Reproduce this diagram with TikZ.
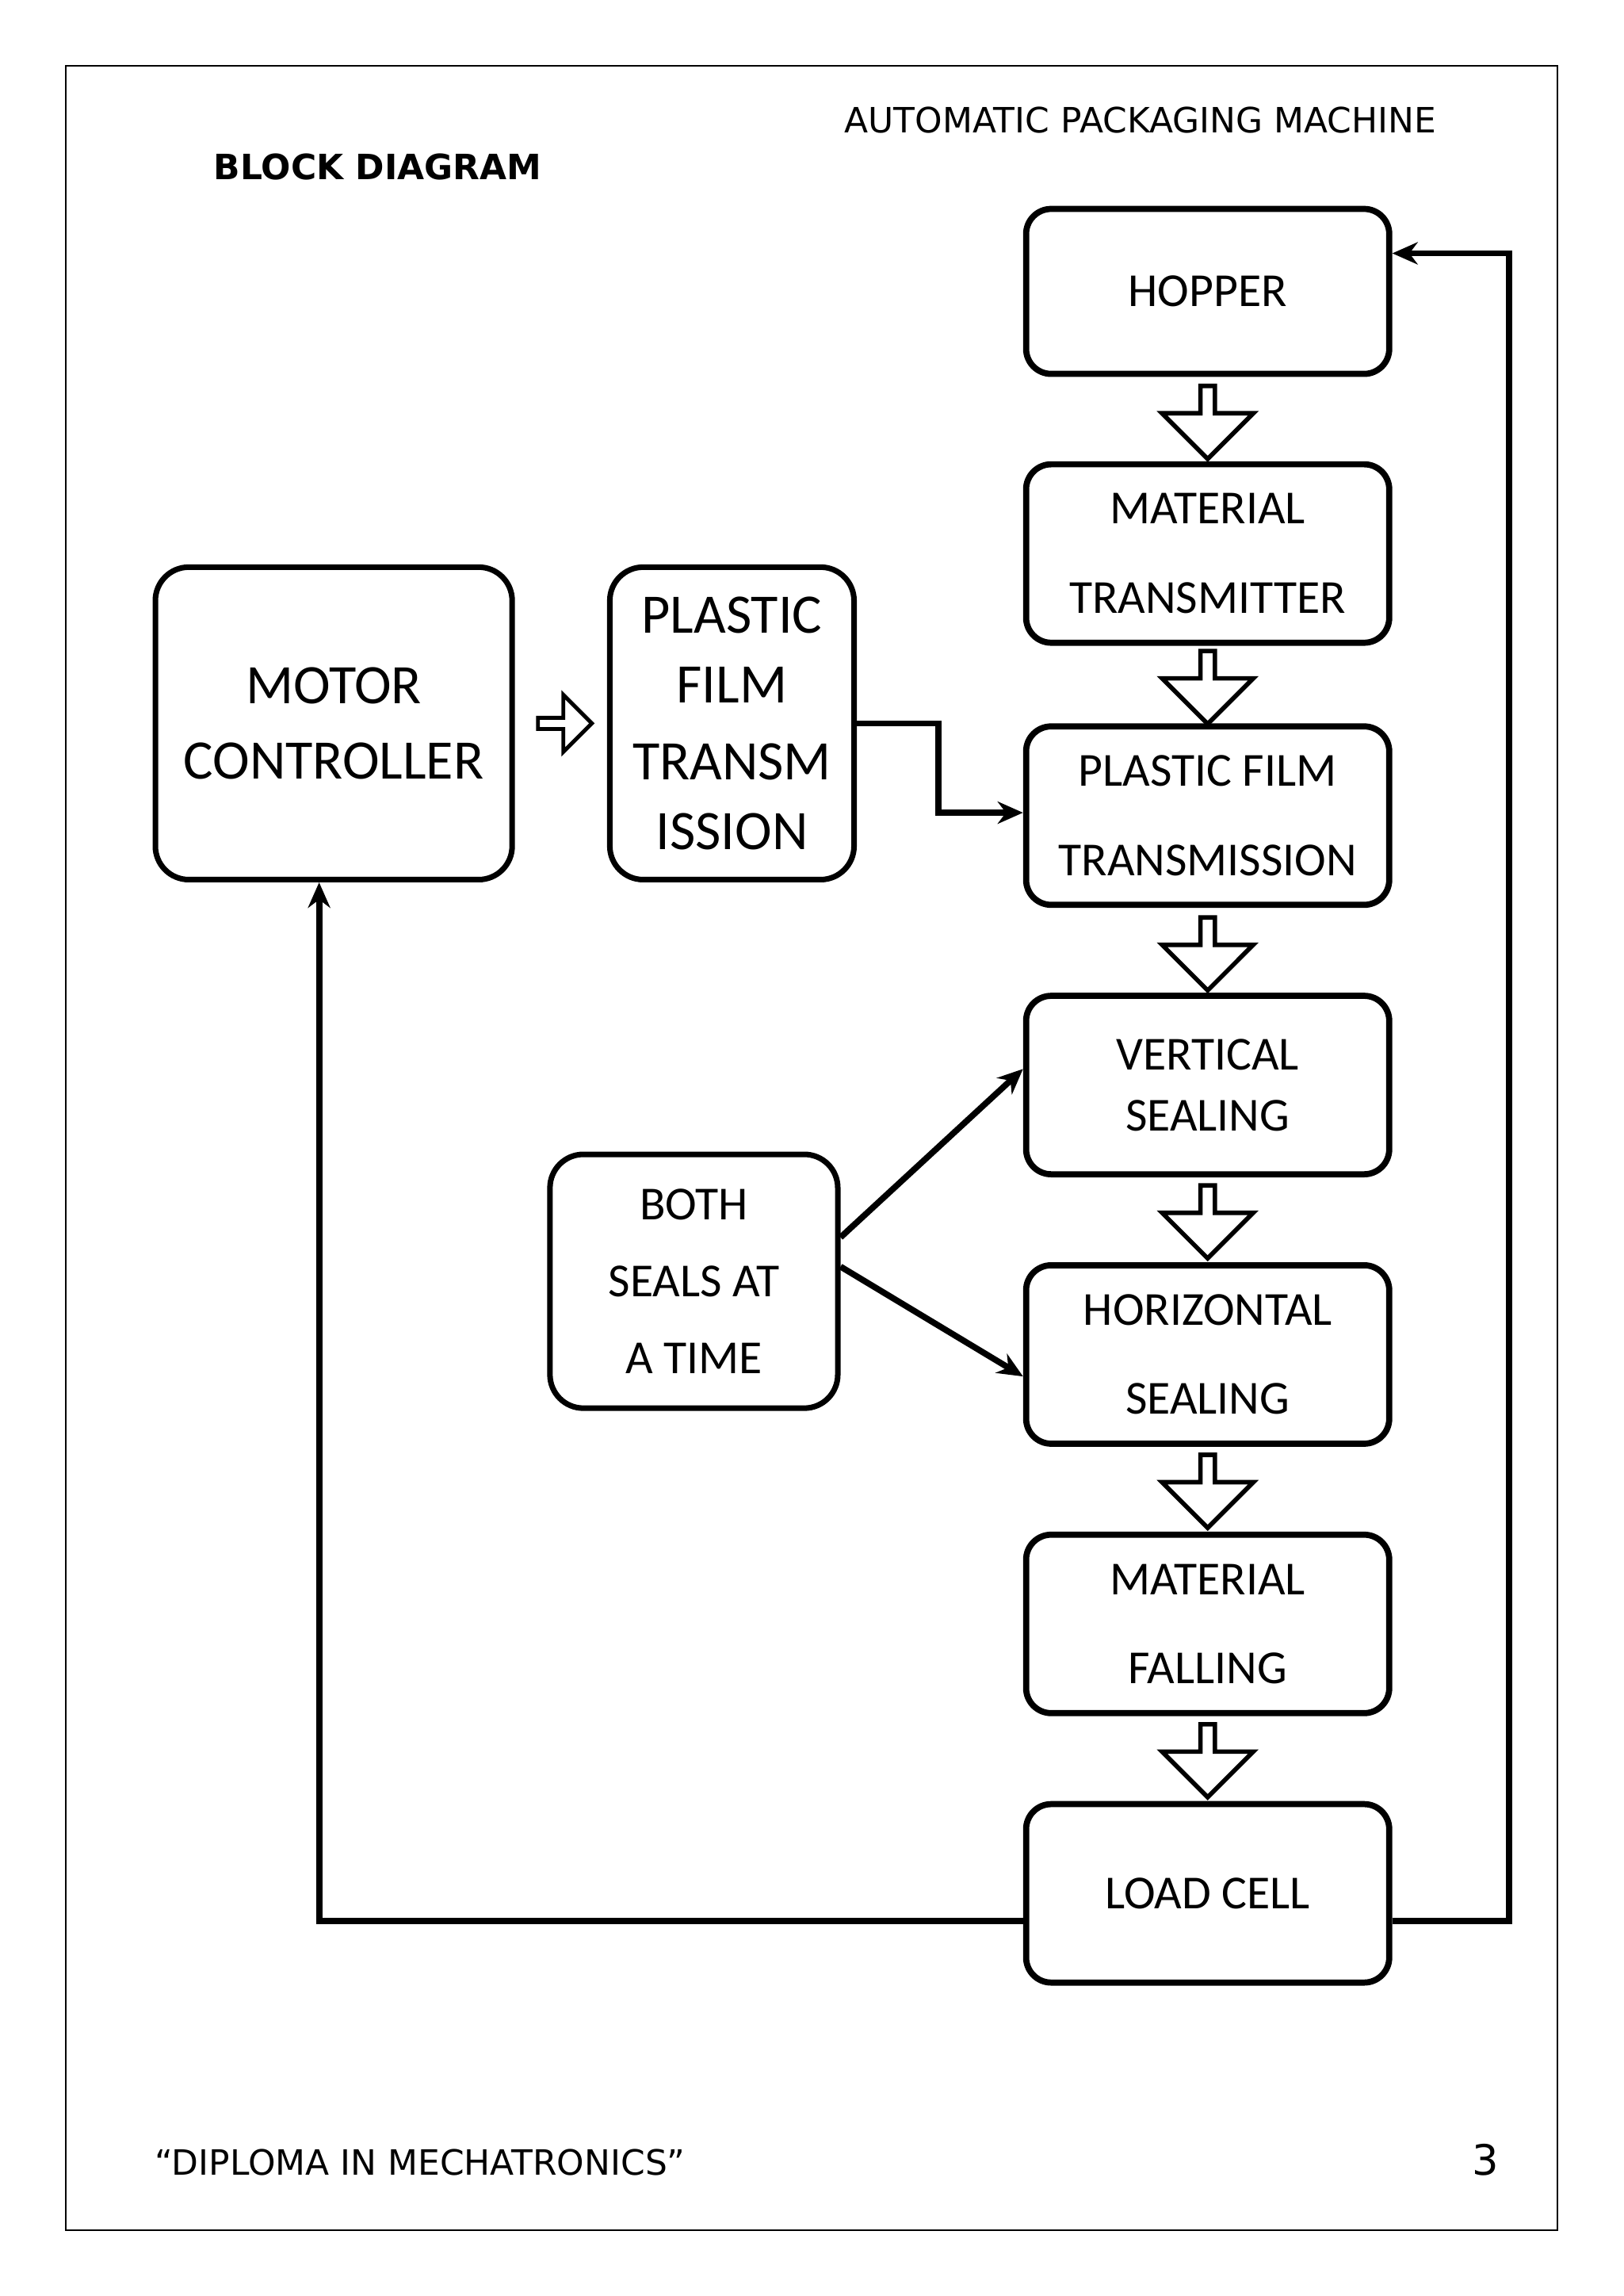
\documentclass[tikz,border=0pt]{standalone}
\usepackage{fontspec}
\setmainfont{Carlito}
\newfontfamily\verd{DejaVu Sans}
\usetikzlibrary{shapes.arrows, arrows.meta, positioning}
\tikzstyle{block} = [rectangle, rounded corners=9pt, draw=black, line width=2.2pt, minimum width=4.58cm, minimum height=2.25cm, align=center, font=\fontsize{17}{22}\selectfont]
\tikzstyle{side} = [rectangle, rounded corners=12pt, draw=black, line width=2pt, align=center, font=\fontsize{19}{24}\selectfont]
\tikzstyle{flow} = [single arrow, draw=black, line width=1.6pt, fill=white, single arrow head extend=0.15cm, minimum width=1.15cm, minimum height=0.92cm, inner sep=0pt, shape border rotate=270]
\tikzstyle{arrow} = [line width=2.2pt, -{Stealth[length=0.32cm, width=0.28cm]}]
\begin{document}
\begin{tikzpicture}[x=0.01847cm, y=-0.01847cm]
	\useasboundingbox (0,0) rectangle (1109,1568);
	\draw [line width=0.6pt] (45,45) rectangle (1064,1523);
	\node (title) at (779,82) {\verd\fontsize{12.5}{16}\selectfont AUTOMATIC PACKAGING MACHINE};
	\node (heading) at (258,114) {\verd\bfseries\fontsize{12.5}{16}\selectfont BLOCK DIAGRAM};
	
	\node (hopper) [block, minimum height=2.08cm] at (825,199) {HOPPER};
	\node (mattrans) [block] at (825,378) {MATERIAL\\[0.35cm]TRANSMITTER};
	\node (filmtrans) [block] at (825,557) {PLASTIC FILM\\[0.35cm]TRANSMISSION};
	\node (vseal) [block] at (825,741) {VERTICAL\\SEALING};
	\node (hseal) [block] at (825,925) {HORIZONTAL\\[0.35cm]SEALING};
	\node (matfall) [block] at (825,1109) {MATERIAL\\[0.35cm]FALLING};
	\node (loadcell) [block] at (825,1293) {LOAD CELL};
	
	\node (motor) [side, minimum width=4.5cm, minimum height=3.94cm, font=\fontsize{20}{27}\selectfont] at (228,494) {MOTOR\\CONTROLLER};
	\node (film) [side, minimum width=3.08cm, minimum height=3.94cm, font=\fontsize{20}{25}\selectfont] at (500,494) {PLASTIC\\FILM\\[0.1cm]TRANSM\\ISSION};
	\node (seals) [side, minimum width=3.63cm, minimum height=3.2cm, font=\fontsize{17}{22}\selectfont] at (474,875) {BOTH\\[0.2cm]SEALS AT\\[0.2cm]A TIME};
	
	\node (f1) [flow] at (825,286) {};
	\node (f2) [flow] at (825,467) {};
	\node (f3) [flow] at (825,649) {};
	\node (f4) [flow] at (825,832) {};
	\node (f5) [flow] at (825,1016) {};
	\node (f6) [flow] at (825,1200) {};
	\node (fm) [flow, shape border rotate=0, minimum width=0.72cm, minimum height=0.68cm, single arrow head extend=0.1cm, line width=1.4pt] at (384,494) {};
	
	\coordinate (bend) at (641,494);
	\draw [arrow] (film.east |- bend) -- (bend) |- (filmtrans.west |- 0,555);
	\draw [arrow] (seals.east |- 0,845) -- (vseal.west |- 0,730);
	\draw [arrow] (seals.east |- 0,865) -- (hseal.west |- 0,940);
	\draw [arrow] (loadcell.west |- 0,1312) -| (motor.south -| 218,0);
	\draw [arrow] (loadcell.east |- 0,1312) -| (1031,173) -- (hopper.east |- 0,173);
	
	\node (footer) at (287,1477) {\verd\fontsize{12.5}{16}\selectfont “DIPLOMA IN MECHATRONICS”};
	\node (page) at (1015,1475) {\verd\fontsize{15}{19}\selectfont 3};
\end{tikzpicture}
\end{document}
